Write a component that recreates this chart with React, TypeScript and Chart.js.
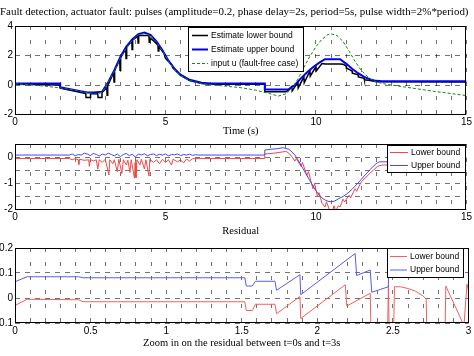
import React, { useEffect, useRef } from "react";
import { Chart, registerables } from "chart.js";
Chart.register(...registerables);

// ---------- text ----------
const MAIN_TITLE =
  "Fault detection, actuator fault: pulses (amplitude=0.2, phase delay=2s, period=5s, pulse width=2%*period)";
const TOP_XTITLE = "Time (s)";
const MID_XTITLE = "Residual";
const BOT_XTITLE = "Zoom in on the residual between t=0s and t=3s";

// ---------- tick labels ----------
const TOP_X_LABELS = ["0", "5", "10", "15"];
const TOP_Y_LABELS = ["-2", "0", "2", "4"];
const MID_Y_LABELS = ["-2", "-1", "0"];
const BOT_X_LABELS = ["0", "0.5", "1", "1.5", "2", "2.5", "3"];
const BOT_Y_LABELS = ["-0.1", "0", "0.1", "0.2"];

// ---------- top plot: estimates and input ----------
const TOP_LOWER_T = [0, 1.5, 1.5, 2.0, 2.35, 2.36, 2.5, 2.51, 2.75, 2.76, 2.88, 2.89, 3.05, 3.06, 3.08, 3.28, 3.29, 3.31, 3.48, 3.49, 3.51, 3.68, 3.69, 3.71, 3.88, 3.89, 3.91, 4.08, 4.09, 4.11, 4.2, 4.45, 4.46, 4.48, 4.6, 4.75, 4.76, 4.78, 4.95, 5.0, 5.2, 5.25, 5.5, 5.8, 6.2, 6.5, 8.3, 8.3, 9.0, 9.05, 9.2, 9.21, 9.4, 9.41, 9.6, 9.61, 9.8, 9.81, 10.0, 10.01, 10.2, 10.3, 10.8, 10.9, 11.0, 11.01, 11.2, 11.21, 11.4, 11.41, 11.6, 11.61, 11.8, 12.0, 15];
const TOP_LOWER_V = [0.05, 0.0, -0.22, -0.42, -0.58, -0.85, -0.85, -0.6, -0.6, -0.85, -0.85, -0.5, -0.2, -0.7, -0.05, 0.85, 0.2, 1.0, 1.7, 1.0, 1.85, 2.45, 1.8, 2.55, 3.0, 2.4, 3.05, 3.3, 2.85, 3.35, 3.35, 3.35, 2.9, 3.2, 3.0, 2.7, 2.3, 2.6, 2.15, 1.8, 1.4, 1.15, 0.65, 0.3, 0.1, 0.05, 0.05, -0.45, -0.45, -0.4, -0.1, -0.4, 0.2, -0.2, 0.55, 0.15, 0.95, 0.6, 1.25, 0.95, 1.45, 1.42, 1.42, 1.4, 1.3, 1.15, 0.95, 0.8, 0.7, 0.55, 0.45, 0.35, 0.3, 0.22, 0.2];

const TOP_UPPER_T = [0, 1.5, 1.5, 2.0, 2.4, 2.6, 2.9, 3.1, 3.3, 3.5, 3.7, 3.9, 4.1, 4.3, 4.5, 4.7, 4.9, 5.1, 5.3, 5.5, 5.8, 6.2, 6.5, 8.3, 8.3, 9.1, 9.3, 9.5, 9.7, 9.9, 10.1, 10.3, 10.8, 11.0, 11.2, 11.4, 11.6, 11.8, 12.0, 12.2, 15];
const TOP_UPPER_V = [0.1, 0.1, -0.15, -0.35, -0.5, -0.5, -0.45, 0.2, 1.0, 1.9, 2.6, 3.1, 3.45, 3.55, 3.4, 2.95, 2.35, 1.65, 1.1, 0.7, 0.35, 0.15, 0.1, 0.1, -0.3, -0.3, 0.0, 0.45, 0.85, 1.2, 1.5, 1.75, 1.75, 1.45, 1.1, 0.8, 0.55, 0.38, 0.28, 0.25, 0.25];

const TOP_INPUT_T = [0, 0.5, 1.0, 1.5, 2.0, 2.4, 2.7, 2.9, 3.1, 3.3, 3.5, 3.7, 3.9, 4.1, 4.3, 4.5, 4.7, 4.9, 5.1, 5.3, 5.5, 5.8, 6.2, 6.6, 7.0, 7.5, 8.0, 8.4, 8.75, 9.0, 9.2, 9.4, 9.6, 9.8, 10.0, 10.2, 10.4, 10.5, 10.7, 10.9, 11.1, 11.3, 11.5, 11.7, 11.9, 12.2, 12.5, 13.0, 13.5, 14.0, 14.5, 15.0];
const TOP_INPUT_V = [0.08, 0.02, -0.08, -0.2, -0.35, -0.52, -0.62, -0.5, 0.2, 0.95, 1.8, 2.5, 3.05, 3.4, 3.5, 3.35, 2.9, 2.3, 1.6, 1.05, 0.65, 0.3, 0.1, 0.0, -0.08, -0.18, -0.35, -0.55, -0.75, -0.6, -0.25, 0.4, 1.2, 1.95, 2.6, 3.1, 3.42, 3.47, 3.35, 2.95, 2.3, 1.6, 1.0, 0.6, 0.28, 0.1, 0.0, -0.15, -0.3, -0.45, -0.58, -0.72];

// ---------- middle plot: residual ----------
const MID_LOWER_T = [0, 1.8, 1.9, 2.0, 2.1, 2.12, 2.14, 2.3, 2.45, 2.47, 2.5, 2.6, 2.7, 2.75, 2.8, 2.9, 3.0, 3.12, 3.15, 3.25, 3.3, 3.4, 3.45, 3.55, 3.6, 3.7, 3.75, 3.82, 3.86, 3.97, 3.99, 4.02, 4.05, 4.15, 4.2, 4.3, 4.35, 4.45, 4.48, 4.6, 4.7, 4.8, 4.9, 5.0, 5.1, 5.2, 5.25, 5.4, 5.5, 5.6, 5.7, 5.8, 5.9, 6.1, 8.3, 8.3, 8.6, 8.9, 9.0, 9.1, 9.2, 9.3, 9.35, 9.5, 9.55, 9.7, 9.75, 9.9, 9.95, 10.05, 10.1, 10.2, 10.3, 10.35, 10.45, 10.55, 10.6, 10.65, 10.75, 10.8, 10.9, 10.95, 11.1, 11.15, 11.3, 11.35, 11.5, 11.7, 11.9, 12.05, 12.2, 15];
const MID_LOWER_V = [-0.05, -0.05, -0.1, -0.06, -0.1, -0.28, -0.08, -0.12, -0.1, -0.35, -0.08, -0.15, -0.1, -0.45, -0.1, -0.2, -0.08, -0.68, -0.1, -0.25, -0.1, -0.55, -0.08, -0.62, -0.1, -0.3, -0.12, -0.58, -0.1, -0.8, -0.2, -0.78, -0.1, -0.3, -0.08, -0.45, -0.1, -0.72, -0.08, -0.2, -0.1, -0.25, -0.08, -0.2, -0.1, -0.3, -0.08, -0.18, -0.1, -0.22, -0.07, -0.15, -0.06, -0.05, -0.05, 0.12, 0.15, 0.2, 0.22, 0.15, 0.02, -0.15, -0.05, -0.35, -0.2, -0.7, -0.55, -1.2, -1.0, -1.5, -1.35, -1.75, -1.9, -1.7, -2.02, -2.05, -1.85, -2.05, -1.85, -1.9, -1.6, -1.7, -1.45, -1.55, -1.2, -1.3, -0.95, -0.72, -0.5, -0.35, -0.3, -0.3];

const MID_UPPER_T = [0, 1.8, 1.9, 2.0, 2.1, 2.2, 2.3, 2.4, 2.5, 2.6, 2.7, 2.8, 2.9, 3.0, 3.1, 3.2, 3.3, 3.4, 3.5, 3.6, 3.7, 3.8, 3.9, 4.0, 4.1, 4.2, 4.3, 4.4, 4.5, 4.6, 4.7, 4.8, 4.9, 5.0, 5.1, 5.2, 5.3, 5.4, 5.5, 5.6, 5.7, 5.8, 5.9, 6.0, 6.1, 8.3, 8.3, 8.5, 8.7, 8.9, 9.0, 9.1, 9.2, 9.3, 9.4, 9.5, 9.6, 9.7, 9.8, 9.9, 10.0, 10.1, 10.2, 10.3, 10.4, 10.5, 10.6, 10.7, 10.8, 10.9, 11.0, 11.1, 11.2, 11.3, 11.4, 11.5, 11.6, 11.7, 11.8, 11.9, 12.0, 12.1, 15];
const MID_UPPER_V = [0.08, 0.08, 0.12, 0.05, 0.1, 0.08, 0.15, 0.12, 0.06, 0.14, 0.1, 0.04, 0.12, 0.08, 0.15, 0.1, 0.05, 0.12, 0.02, 0.1, 0.14, 0.06, 0.11, 0.0, 0.12, 0.08, 0.13, 0.05, 0.1, 0.12, 0.06, 0.11, 0.08, 0.12, 0.05, 0.1, 0.09, 0.12, 0.06, 0.1, 0.08, 0.11, 0.07, 0.09, 0.08, 0.08, 0.27, 0.3, 0.32, 0.36, 0.33, 0.3, 0.2, 0.08, -0.1, -0.3, -0.5, -0.7, -0.9, -1.1, -1.28, -1.42, -1.55, -1.63, -1.68, -1.7, -1.68, -1.62, -1.55, -1.5, -1.42, -1.33, -1.22, -1.1, -0.98, -0.85, -0.72, -0.6, -0.47, -0.35, -0.25, -0.18, -0.18];

// ---------- bottom plot: zoom on residual ----------
const BOT_LOWER_T = [0, 0.08, 0.42, 0.45, 1.52, 1.53, 1.57, 1.59, 1.72, 1.73, 1.885, 1.89, 2.185, 2.195, 2.35, 2.36, 2.46, 2.47, 2.48, 2.5, 2.51, 2.55, 2.6, 2.65, 2.7, 2.72, 2.73, 2.84, 2.85, 2.97, 2.99, 3.0];
const BOT_LOWER_V = [-0.03, -0.005, -0.007, -0.015, -0.015, -0.05, -0.05, -0.025, -0.025, -0.063, 0.006, -0.082, 0.053, -0.032, 0.019, -0.3, -0.3, 0.05, -0.3, -0.3, 0.045, 0.045, 0.038, 0.027, 0.008, -0.005, -0.3, -0.3, 0.048, -0.11, 0.055, 0.03];

const BOT_UPPER_T = [0, 0.08, 0.42, 0.45, 1.52, 1.53, 1.57, 1.59, 1.72, 1.73, 1.885, 1.89, 2.25, 2.26, 2.35, 2.36, 2.47, 2.48, 3.0];
const BOT_UPPER_V = [0.065, 0.085, 0.085, 0.081, 0.081, 0.048, 0.048, 0.067, 0.067, 0.031, 0.093, 0.013, 0.178, 0.09, 0.112, 0.023, 0.045, 0.5, 0.5];

// ---------- helpers ----------
const zip = (t: number[], v: number[]) => t.map((x, i) => ({ x, y: v[i] }));
const labelFor = (arr: string[], v: number) => {
  const hit = arr.find((a) => Math.abs(parseFloat(a) - v) < 1e-6);
  return hit === undefined ? "" : hit;
};

const SANS = "'Liberation Sans', Arial, sans-serif";
const SERIF = "'Liberation Serif', 'Times New Roman', serif";
const GRID = "rgba(0,0,0,0.55)";

const framePlugin = {
  id: "frame",
  afterDatasetsDraw(chart: any) {
    const { ctx, chartArea: a } = chart;
    ctx.save();
    ctx.setLineDash([]);
    ctx.strokeStyle = "#000";
    ctx.lineWidth = 1;
    ctx.strokeRect(Math.round(a.left) + 0.5, Math.round(a.top) + 0.5, Math.round(a.right - a.left) - 1, Math.round(a.bottom - a.top) - 1);
    ctx.restore();
  },
};

const boxLegendPlugin = {
  id: "boxLegend",
  afterDraw(chart: any, _args: any, o: any) {
    if (!o || !o.rows) return;
    const ctx = chart.ctx;
    ctx.save();
    ctx.setLineDash([]);
    ctx.fillStyle = "#fff";
    ctx.fillRect(o.x, o.y, o.w, o.h);
    ctx.strokeStyle = "#000";
    ctx.lineWidth = 1;
    ctx.strokeRect(o.x + 0.5, o.y + 0.5, o.w - 1, o.h - 1);
    ctx.font = `${o.fontSize}px ${SANS}`;
    ctx.textBaseline = "middle";
    ctx.textAlign = "left";
    for (const r of o.rows) {
      ctx.strokeStyle = r.color;
      ctx.lineWidth = r.width;
      ctx.setLineDash(r.dash || []);
      ctx.beginPath();
      ctx.moveTo(o.sx0, r.y + 0.5);
      ctx.lineTo(o.sx1, r.y + 0.5);
      ctx.stroke();
      ctx.fillStyle = "#000";
      ctx.fillText(r.label, o.tx, r.y + 0.5);
    }
    ctx.restore();
  },
};

type Cfg = {
  datasets: any[];
  xMin: number; xMax: number; xStep: number; xLabels: string[]; xDash: number[];
  yMin: number; yMax: number; yStep: number; yLabels: string[];
  xTitle: string; xTitlePadBottom: number;
  xHeight: number; padTop: number;
  title?: boolean;
  legend: any;
};

function build(canvas: HTMLCanvasElement, c: Cfg) {
  return new Chart(canvas, {
    type: "line",
    data: { datasets: c.datasets },
    plugins: [framePlugin, boxLegendPlugin],
    options: {
      animation: false,
      responsive: false,
      events: [],
      layout: { padding: { top: c.padTop, right: 5.5, left: 0, bottom: 0 } },
      elements: { point: { radius: 0 }, line: { tension: 0 } },
      plugins: {
        legend: { display: false },
        tooltip: { enabled: false },
        title: {
          display: !!c.title,
          text: MAIN_TITLE,
          color: "#000",
          font: { family: SERIF, size: 11, weight: "normal", lineHeight: 1.2 },
          padding: { top: 5.2, bottom: 7.6 },
        },
        boxLegend: c.legend,
      } as any,
      scales: {
        x: {
          type: "linear",
          min: c.xMin,
          max: c.xMax,
          afterFit: (s: any) => { s.height = c.xHeight; },
          grid: { color: GRID, lineWidth: 1, drawTicks: false },
          border: { display: false, dash: c.xDash },
          ticks: {
            stepSize: c.xStep,
            autoSkip: false,
            maxRotation: 0,
            padding: 2,
            color: "#000",
            font: { family: SANS, size: 10 },
            callback: (v: any) => labelFor(c.xLabels, Number(v)),
          },
          title: {
            display: true,
            text: c.xTitle,
            color: "#000",
            font: { family: SERIF, size: 10.5, lineHeight: 1.2 },
            padding: { top: 0, bottom: c.xTitlePadBottom },
          },
        },
        y: {
          type: "linear",
          min: c.yMin,
          max: c.yMax,
          afterFit: (s: any) => { s.width = 15; },
          grid: { color: GRID, lineWidth: 1, drawTicks: false },
          border: { display: false, dash: [5, 5] },
          ticks: {
            stepSize: c.yStep,
            autoSkip: false,
            padding: 2,
            color: "#000",
            font: { family: SANS, size: 10 },
            callback: (v: any) => labelFor(c.yLabels, Number(v)),
          },
        },
      },
    } as any,
  });
}

const line = (data: any, color: string, width: number, order: number, dash: number[] = []) => ({
  data,
  borderColor: color,
  backgroundColor: color,
  borderWidth: width,
  borderDash: dash,
  pointRadius: 0,
  fill: false,
  order,
});

export default function App() {
  const r1 = useRef<HTMLCanvasElement>(null);
  const r2 = useRef<HTMLCanvasElement>(null);
  const r3 = useRef<HTMLCanvasElement>(null);

  useEffect(() => {
    const c1 = build(r1.current!, {
      datasets: [
        line(zip(TOP_LOWER_T, TOP_LOWER_V), "#000000", 1.5, 3),
        line(zip(TOP_UPPER_T, TOP_UPPER_V), "#0000ee", 2, 2),
        line(zip(TOP_INPUT_T, TOP_INPUT_V), "#118a11", 1, 1, [3, 2]),
      ],
      xMin: 0, xMax: 15, xStep: 0.5, xLabels: TOP_X_LABELS, xDash: [4, 10],
      yMin: -2, yMax: 4, yStep: 2, yLabels: TOP_Y_LABELS,
      xTitle: TOP_XTITLE, xTitlePadBottom: 0,
      xHeight: 23.5, padTop: 0, title: true,
      legend: {
        x: 188, y: 27, w: 116, h: 45, sx0: 192, sx1: 208, tx: 211, fontSize: 8.5,
        rows: [
          { label: "Estimate lower bound", color: "#000", width: 1.5, y: 35 },
          { label: "Estimate upper bound", color: "#0000ee", width: 2, y: 49 },
          { label: "input u (fault-free case)", color: "#118a11", width: 1, dash: [3, 2], y: 63 },
        ],
      },
    });
    const c2 = build(r2.current!, {
      datasets: [
        line(zip(MID_LOWER_T, MID_LOWER_V), "#f04848", 1, 2),
        line(zip(MID_UPPER_T, MID_UPPER_V), "#4848f0", 1, 1),
      ],
      xMin: 0, xMax: 15, xStep: 0.5, xLabels: TOP_X_LABELS, xDash: [4, 10],
      yMin: -2, yMax: 0.5, yStep: 0.5, yLabels: MID_Y_LABELS,
      xTitle: MID_XTITLE, xTitlePadBottom: 2,
      xHeight: 30.3, padTop: 7,
      legend: {
        x: 387, y: 9, w: 79, h: 28, sx0: 390, sx1: 408, tx: 411, fontSize: 8.5,
        rows: [
          { label: "Lower bound", color: "#f04848", width: 1, y: 16 },
          { label: "Upper bound", color: "#4848f0", width: 1, y: 29 },
        ],
      },
    });
    const c3 = build(r3.current!, {
      datasets: [
        line(zip(BOT_LOWER_T, BOT_LOWER_V), "#f06060", 1, 2),
        line(zip(BOT_UPPER_T, BOT_UPPER_V), "#5c5ce8", 1, 1),
      ],
      xMin: 0, xMax: 3, xStep: 0.1, xLabels: BOT_X_LABELS, xDash: [4, 10],
      yMin: -0.1, yMax: 0.2, yStep: 0.1, yLabels: BOT_Y_LABELS,
      xTitle: BOT_XTITLE, xTitlePadBottom: 6.5,
      xHeight: 33, padTop: 5,
      legend: {
        x: 387, y: 8, w: 77, h: 30, sx0: 390, sx1: 407, tx: 410, fontSize: 8.5,
        rows: [
          { label: "Lower bound", color: "#f06060", width: 1, y: 16 },
          { label: "Upper bound", color: "#5c5ce8", width: 1, y: 29.5 },
        ],
      },
    });
    return () => { c1.destroy(); c2.destroy(); c3.destroy(); };
  }, []);

  return (
    <div style={{ position: "fixed", left: 0, top: 0, width: 474, height: 356, background: "#fff", overflow: "hidden" }}>
      <canvas ref={r1} width={474} height={138} style={{ position: "absolute", left: 0, top: 0 }} />
      <canvas ref={r2} width={474} height={104} style={{ position: "absolute", left: 0, top: 136 }} />
      <canvas ref={r3} width={474} height={116} style={{ position: "absolute", left: 0, top: 240 }} />
    </div>
  );
}
